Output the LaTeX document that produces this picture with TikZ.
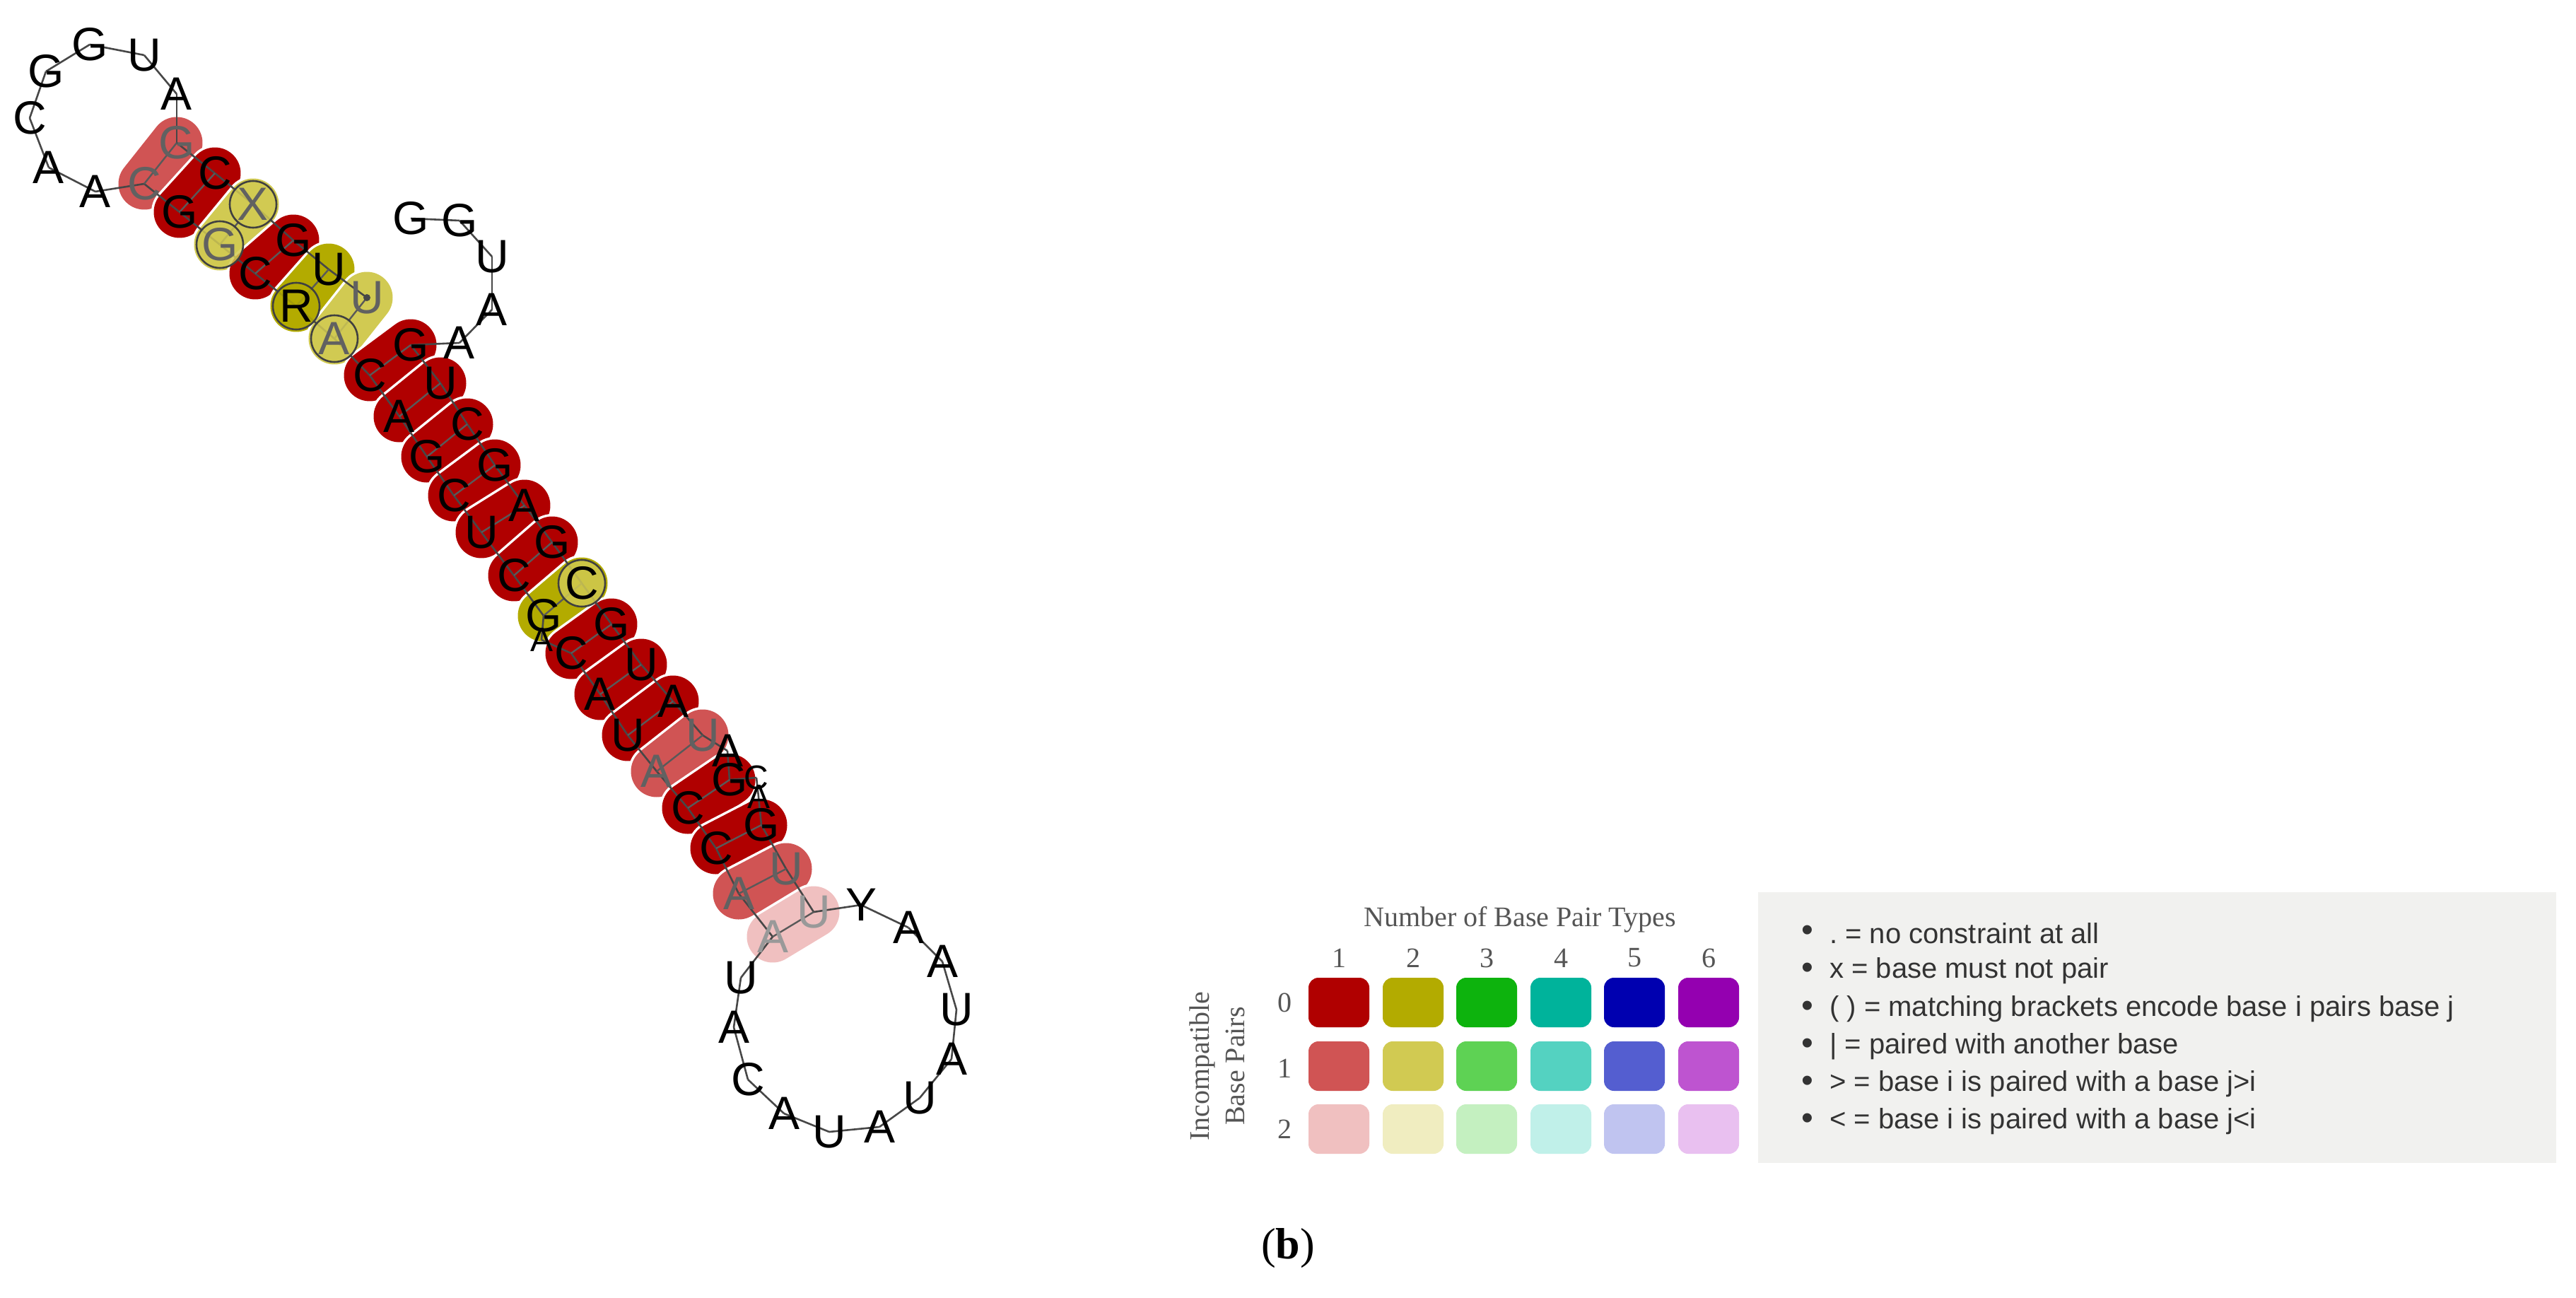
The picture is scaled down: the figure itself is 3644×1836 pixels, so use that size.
\documentclass[tikz,border=0pt]{standalone}
\usepackage{fontspec}
\setmainfont{Liberation Sans}
\newfontfamily\serifleg{Liberation Serif}
\definecolor{rA}{HTML}{B00000}\definecolor{rB}{HTML}{D05454}\definecolor{rC}{HTML}{F0C0C0}
\definecolor{yA}{HTML}{B3AB00}\definecolor{yB}{HTML}{D1CA52}\definecolor{yC}{HTML}{F0EDC0}
\definecolor{gA}{HTML}{0DB30D}\definecolor{gB}{HTML}{5ED254}\definecolor{gC}{HTML}{C4F0C0}
\definecolor{tA}{HTML}{00B39B}\definecolor{tB}{HTML}{54D2C1}\definecolor{tC}{HTML}{C0F0E9}
\definecolor{bA}{HTML}{0000B0}\definecolor{bB}{HTML}{545ED0}\definecolor{bC}{HTML}{C0C4F0}
\definecolor{pA}{HTML}{9400B0}\definecolor{pB}{HTML}{BE54D0}\definecolor{pC}{HTML}{E9C0F0}
\definecolor{legbg}{HTML}{F1F1EF}\definecolor{legtx}{HTML}{333333}\definecolor{sertx}{HTML}{555555}
\begin{document}
\begin{tikzpicture}[x=1pt,y=-1pt,
  base/.style={inner sep=0pt,font=\fontsize{66}{66}\selectfont,text=black},
  gbase/.style={base,text=black!62},
  pbase/.style={base,text=black!40},
  sbase/.style={base,font=\fontsize{48}{48}\selectfont},
  bb/.style={draw=black!72,line width=2.6pt},
  pairline/.style={draw=black!65,line width=2.4pt},
  circ/.style={draw=black!75,line width=2.6pt,fill=yB,fill opacity=0.85},
  legbox/.style={rounded corners=14pt,minimum width=86pt,minimum height=70pt,inner sep=0pt},
  sertext/.style={font=\serifleg\fontsize{40}{46}\selectfont,text=sertx},
  legitem/.style={anchor=west,inner sep=0pt,font=\fontsize{40}{40}\selectfont,text=legtx}]
\useasboundingbox (0,0) rectangle (3644,1836);
\foreach \n/\x/\y/\l/\s in {
1/581/309/G/base,2/650/312/G/base,3/696/363/U/base,4/696/438/A/base,5/650/485/A/base,
6/581/488/G/base,7/623/542/U/base,8/661/600/C/base,9/700/658/G/base,10/742/715/A/base,
11/781/767/G/base,12/823/825/C/base,13/865/883/G/base,14/907/940/U/base,15/952/992/A/base,
16/994/1040/U/gbase,17/1029/1062/A/base,18/1032/1103/G/base,19/1070/1100/C/sbase,20/1073/1127/A/sbase,
21/1077/1167/G/base,22/1112/1229/U/gbase,23/1151/1290/U/pbase,24/1218/1280/Y/base,25/1285/1312/A/base,
26/1333/1360/A/base,27/1353/1428/U/base,28/1346/1498/A/base,29/1301/1553/U/base,30/1244/1594/A/base,
31/1173/1601/U/base,32/1109/1575/A/base,33/1058/1527/C/base,34/1038/1453/A/base,35/1048/1383/U/base,
36/1093/1325/A/pbase,37/1045/1264/A/gbase,38/1013/1200/C/base,39/973/1143/C/base,40/929/1091/A/gbase,
41/888/1040/U/base,42/849/982/A/base,43/808/924/C/base,44/766/905/A/sbase,45/769/871/G/base,
46/727/814/C/base,47/681/753/U/base,48/642/701/C/base,49/604/646/G/base,50/565/589/A/base,
51/523/531/C/base,52/473/479/A/gbase,53/419/433/R/base,54/361/387/C/base,55/311/346/G/gbase,
56/254/300/G/base,57/204/260/C/gbase,58/135/271/A/base,59/69/237/A/base,60/42/167/C/base,
61/65/101/G/base,62/127/63/G/base,63/204/78/U/base,64/250/133/A/base,65/250/202/G/gbase,
66/304/245/C/base,67/358/289/X/gbase,68/415/340/G/base,69/465/381/U/base,70/519/421/U/gbase}
  \coordinate (c\n) at (\x,\y);
\foreach \a/\b/\c in {57/65/rB,56/66/rA,55/67/yB,54/68/rA,53/69/yA,52/70/yB,51/6/rA,50/7/rA,
  49/8/rA,48/9/rA,47/10/rA,46/11/rA,45/12/yA,43/13/rA,42/14/rA,41/15/rA,40/16/rB,39/18/rA,
  38/21/rA,37/22/rB,36/23/rC}{
  \draw[white,line width=80pt,line cap=round] (c\a) -- (c\b);
  \draw[\c,line width=73pt,line cap=round] (c\a) -- (c\b);
}
\foreach \i [evaluate=\i as \j using int(\i+1)] in {1,...,69}
  \draw[bb] (c\i) -- (c\j);
\foreach \a/\b in {57/65,56/66,55/67,54/68,53/69,52/70,51/6,50/7,49/8,48/9,47/10,46/11,45/12,
  43/13,42/14,41/15,40/16,39/18,38/21,37/22,36/23}
  \draw[pairline] (c\a) -- (c\b);
\fill[black!72] (c70) circle (5pt);
\foreach \n in {12,52,55,67} \draw[circ] (c\n) circle (33pt);
\draw[circ,fill=yA] (c53) circle (33pt);
\foreach \n/\x/\y/\l/\s in {
1/581/309/G/base,2/650/312/G/base,3/696/363/U/base,4/696/438/A/base,5/650/485/A/base,
6/581/488/G/base,7/623/542/U/base,8/661/600/C/base,9/700/658/G/base,10/742/715/A/base,
11/781/767/G/base,12/823/825/C/base,13/865/883/G/base,14/907/940/U/base,15/952/992/A/base,
16/994/1040/U/gbase,17/1029/1062/A/base,18/1032/1103/G/base,19/1070/1100/C/sbase,20/1073/1127/A/sbase,
21/1077/1167/G/base,22/1112/1229/U/gbase,23/1151/1290/U/pbase,24/1218/1280/Y/base,25/1285/1312/A/base,
26/1333/1360/A/base,27/1353/1428/U/base,28/1346/1498/A/base,29/1301/1553/U/base,30/1244/1594/A/base,
31/1173/1601/U/base,32/1109/1575/A/base,33/1058/1527/C/base,34/1038/1453/A/base,35/1048/1383/U/base,
36/1093/1325/A/pbase,37/1045/1264/A/gbase,38/1013/1200/C/base,39/973/1143/C/base,40/929/1091/A/gbase,
41/888/1040/U/base,42/849/982/A/base,43/808/924/C/base,44/766/905/A/sbase,45/769/871/G/base,
46/727/814/C/base,47/681/753/U/base,48/642/701/C/base,49/604/646/G/base,50/565/589/A/base,
51/523/531/C/base,52/473/479/A/gbase,53/419/433/R/base,54/361/387/C/base,55/311/346/G/gbase,
56/254/300/G/base,57/204/260/C/gbase,58/135/271/A/base,59/69/237/A/base,60/42/167/C/base,
61/65/101/G/base,62/127/63/G/base,63/204/78/U/base,64/250/133/A/base,65/250/202/G/gbase,
66/304/245/C/base,67/358/289/X/gbase,68/415/340/G/base,69/465/381/U/base,70/519/421/U/gbase}
  \node[\s] (b\n) at (c\n) {\l};
\node[sertext] (ltitle) at (2150,1301) {Number of Base Pair Types};
\foreach \k/\x in {1/1894,2/1999,3/2103,4/2208,5/2312,6/2417}
  \node[sertext] (col\k) at (\x,1355) {\k};
\foreach \r/\y in {0/1418,1/1511,2/1597}
  \node[sertext] (row\r) at (1817,\y) {\r};
\foreach \c/\k/\x in {r/1/1894,y/2/1999,g/3/2103,t/4/2208,b/5/2312,p/6/2417}{
  \node[legbox,fill=\c A] (box0\k) at (\x,1418) {};
  \node[legbox,fill=\c B] (box1\k) at (\x,1508) {};
  \node[legbox,fill=\c C] (box2\k) at (\x,1597) {};
}
\node[sertext,rotate=90,align=center,font=\serifleg\fontsize{40}{50}\selectfont] (ylab) at (1722,1508) {Incompatible\\Base Pairs};
\fill[legbg] (2487,1262) rectangle (3616,1645);
\foreach \i/\y/\t in {1/1320/{.\ = no constraint at all},2/1373/{x = base must not pair},
  3/1427/{( ) = matching brackets encode base i pairs base j},4/1480/{| = paired with another base},
  5/1533/{> = base i is paired with a base j>i},6/1586/{< = base i is paired with a base j<i}}{
  \node[legitem,font=\fontsize{48}{48}\selectfont] (bul\i) at (2548,\y) {•};
  \node[legitem] (item\i) at (2588,\y) {\t};
}
\node[font=\serifleg\fontsize{62}{62}\selectfont] (cap) at (1822,1766) {(\textbf{b})};
\end{tikzpicture}
\end{document}
